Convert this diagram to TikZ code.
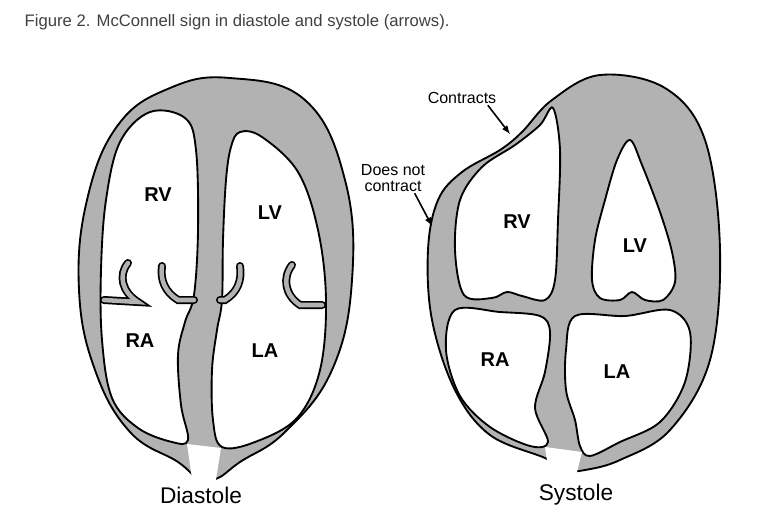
\documentclass[tikz,border=0pt]{standalone}
\usepackage{fontspec}
\setmainfont{Liberation Sans}
\begin{document}
\begin{tikzpicture}[x=0.75pt,y=-0.75pt,
  wall/.style={fill=black!30,draw=black,line width=1.4pt},
  cham/.style={fill=white,draw=black,line width=1.4pt},
  leafo/.style={draw=black,line width=6pt,line cap=round},
  leafi/.style={draw=black!30,line width=3.4pt,line cap=round},
  lab/.style={font=\bfseries\fontsize{15}{15}\selectfont},
  capt/.style={font=\fontsize{17}{17}\selectfont},
  ann/.style={font=\fontsize{12}{12}\selectfont,align=center,inner sep=1pt},
  arr/.style={-latex,line width=1.2pt}]
\useasboundingbox (0,0) rectangle (782,522);
\node[anchor=west,font=\fontsize{12.5}{12.5}\selectfont,text=black!75] (title) at (20,22) {Figure 2. McConnell sign in diastole and systole (arrows).};
% Diastole
\draw[wall] plot[smooth cycle,tension=0.7] coordinates {(230,78)(305,100)(345,180)(352,280)(332,370)(285,432)(240,462)(218,478)(200,480)(178,462)(130,432)(95,370)(79,290)(87,200)(118,125)(170,88)};
\draw[cham] plot[smooth cycle,tension=0.6] coordinates {(150,112)(185,118)(196,150)(198,230)(194,295)(185,322)(178,355)(181,405)(188,440)(172,442)(138,428)(112,398)(102,340)(101,270)(106,200)(120,142)};
\draw[cham] plot[smooth cycle,tension=0.6] coordinates {(240,132)(262,137)(298,172)(318,230)(326,300)(320,370)(297,418)(255,442)(222,447)(213,420)(212,370)(217,330)(222,300)(223,240)(226,180)(231,147)};
\fill[white] (187,444) -- (221,448) -- (215,486) -- (193,486) -- cycle;
\draw[leafo] (104,300) -- (138,302) .. controls (122,292) and (118,275) .. (128,263);
\draw[leafi] (104,300) -- (138,302) .. controls (122,292) and (118,275) .. (128,263);
\draw[leafo] (194,300) -- (178,300) .. controls (165,292) and (160,280) .. (162,266);
\draw[leafi] (194,300) -- (178,300) .. controls (165,292) and (160,280) .. (162,266);
\draw[leafo] (220,300) -- (225,300) .. controls (238,292) and (242,280) .. (240,266);
\draw[leafi] (220,300) -- (225,300) .. controls (238,292) and (242,280) .. (240,266);
\draw[leafo] (322,305) -- (300,305) .. controls (285,295) and (282,278) .. (292,265);
\draw[leafi] (322,305) -- (300,305) .. controls (285,295) and (282,278) .. (292,265);
% Systole
\draw[wall] plot[smooth cycle,tension=0.6] coordinates {(600,75)(665,88)(705,140)(720,250)(710,360)(670,430)(620,460)(585,470)(566,470)(545,458)(490,435)(455,390)(432,320)(428,250)(438,200)(462,172)(500,150)(522,132)(552,100)};
\draw[cham] plot[smooth cycle,tension=0.55] coordinates {(553,108)(560,150)(558,220)(555,280)(545,300)(522,296)(507,292)(492,298)(464,295)(455,250)(460,200)(482,167)(515,145)(540,125)};
\draw[cham] plot[smooth cycle,tension=0.55] coordinates {(630,140)(642,165)(660,212)(672,252)(675,282)(663,300)(645,300)(632,292)(620,300)(600,298)(592,280)(595,240)(605,200)(617,160)};
\draw[cham] plot[smooth cycle,tension=0.55] coordinates {(455,310)(500,312)(540,316)(550,332)(545,372)(535,408)(548,442)(530,446)(490,427)(460,396)(446,350)};
\draw[cham] plot[smooth cycle,tension=0.55] coordinates {(575,316)(625,316)(670,310)(690,332)(685,382)(660,422)(620,442)(590,456)(580,446)(575,420)(566,390)(566,350)};
\fill[white] (545,447) -- (582,452) -- (575,480) -- (550,480) -- cycle;
% labels
\node[lab] (rvd) at (158,195) {RV};
\node[lab] (lvd) at (270,213) {LV};
\node[lab] (rad) at (140,341) {RA};
\node[lab] (lad) at (265,351) {LA};
\node[lab] (rvs) at (517,222) {RV};
\node[lab] (lvs) at (635,246) {LV};
\node[lab] (ras) at (495,360) {RA};
\node[lab] (las) at (617,372) {LA};
\node[capt] (dia) at (201,495) {Diastole};
\node[capt] (sys) at (576,495) {Systole};
\node[ann] (con) at (462,98) {Contracts};
\node[ann] (dnc) at (393,178) {Does not\\contract};
\coordinate (c1) at (510,134);
\coordinate (c2) at (432,226);
\draw[arr] (con.south east) ++(-10,0) -- (c1);
\draw[arr] (dnc.south east) ++(-12,0) -- (c2);
\end{tikzpicture}
\end{document}
